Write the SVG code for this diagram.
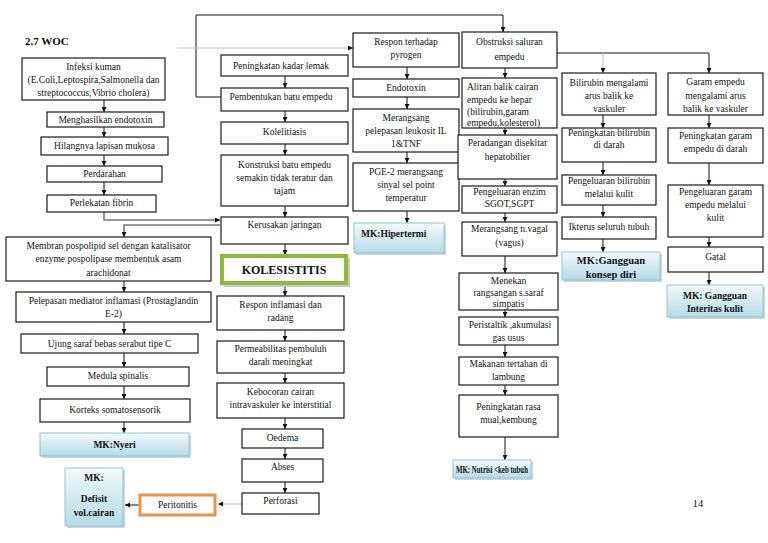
<svg xmlns="http://www.w3.org/2000/svg" width="768" height="543" viewBox="0 0 768 543">
<defs>
<style>
.box{fill:#fff;stroke:#1a1a1a;stroke-width:1.2}
.mk{fill:url(#blue);stroke:#93c3d2;stroke-width:1}
.sh{fill:#c9d6db}
.t{font-family:"Liberation Serif","Times New Roman",serif;font-size:9.5px;fill:#111;text-anchor:middle}
.l{text-anchor:start}
.b{font-weight:bold}
.c{fill:none;stroke:#111;stroke-width:1}
.g{fill:none;stroke:#c4c4c4;stroke-width:1.2}
.g2{fill:none;stroke:#777;stroke-width:1.6}
</style>
<linearGradient id="blue" x1="0" y1="0" x2="0" y2="1">
<stop offset="0" stop-color="#f3fafc"/>
<stop offset="1" stop-color="#b4dbe7"/>
</linearGradient>
<marker id="ah" viewBox="0 0 10 10" refX="10" refY="5" markerWidth="5" markerHeight="5" markerUnits="userSpaceOnUse" orient="auto">
<path d="M0,0 L10,5 L0,10 z" fill="#111"/>
</marker>
</defs>
<rect width="768" height="543" fill="#fff"/>
<text class="t l b" x="25" y="45" style="font-size:11px">2.7 WOC</text>

<g id="connectors">
<path class="c" marker-end="url(#ah)" d="M104,100 V112"/>
<path class="c" marker-end="url(#ah)" d="M104,127 V137"/>
<path class="c" marker-end="url(#ah)" d="M104,155 V166"/>
<path class="c" marker-end="url(#ah)" d="M104,182 V195"/>
<path class="g2" marker-end="url(#ah)" d="M104,212 V220 H220"/>
<path class="g2" marker-end="url(#ah)" d="M220,225 H124 V237"/>
<path class="c" marker-end="url(#ah)" d="M124,281 V292"/>
<path class="c" marker-end="url(#ah)" d="M124,322 V334"/>
<path class="c" marker-end="url(#ah)" d="M124,353 V367"/>
<path class="c" marker-end="url(#ah)" d="M124,386 V399"/>
<path class="c" marker-end="url(#ah)" d="M124,422 V433"/>
<path class="c" marker-end="url(#ah)" d="M285,76 V88"/>
<path class="c" marker-end="url(#ah)" d="M285,111 V122"/>
<path class="c" marker-end="url(#ah)" d="M285,144 V155"/>
<path class="c" marker-end="url(#ah)" d="M285,206 V217"/>
<path class="c" marker-end="url(#ah)" d="M285,244 V255"/>
<path class="c" marker-end="url(#ah)" d="M285,284 V296"/>
<path class="c" marker-end="url(#ah)" d="M285,330 V341"/>
<path class="c" marker-end="url(#ah)" d="M285,373 V383"/>
<path class="c" marker-end="url(#ah)" d="M285,418 V429"/>
<path class="c" marker-end="url(#ah)" d="M285,448 V459"/>
<path class="c" marker-end="url(#ah)" d="M285,482 V493"/>
<path class="g" marker-end="url(#ah)" d="M242,504 H218"/>
<path class="c" marker-end="url(#ah)" d="M139,505 H125"/>
<path class="c" marker-end="url(#ah)" d="M221,97 H196 V15 H503 V32"/>
<path class="g" marker-end="url(#ah)" d="M177,48 H353"/>
<path class="c" marker-end="url(#ah)" d="M407,67 V79"/>
<path class="c" marker-end="url(#ah)" d="M407,97 V109"/>
<path class="c" marker-end="url(#ah)" d="M407,152 V163"/>
<path class="c" marker-end="url(#ah)" d="M407,211 V223"/>
<path class="c" marker-end="url(#ah)" d="M505,68 V78"/>
<path class="c" marker-end="url(#ah)" d="M505,128 V135"/>
<path class="c" marker-end="url(#ah)" d="M505,179 V186"/>
<path class="c" marker-end="url(#ah)" d="M505,213 V222"/>
<path class="c" marker-end="url(#ah)" d="M505,256 V273"/>
<path class="c" marker-end="url(#ah)" d="M505,310 V317"/>
<path class="c" marker-end="url(#ah)" d="M505,345 V357"/>
<path class="c" marker-end="url(#ah)" d="M505,385 V395"/>
<path class="c" marker-end="url(#ah)" d="M505,437 V460"/>
<path d="M460,321 L465,321 L462.5,326 z" fill="#111"/>
<path class="c" marker-end="url(#ah)" d="M557,53 H709 V73"/>
<path class="g" marker-end="url(#ah)" d="M603,53 V73"/>
<path class="c" marker-end="url(#ah)" d="M603,115 V128"/>
<path class="c" marker-end="url(#ah)" d="M603,162 V175"/>
<path class="c" marker-end="url(#ah)" d="M603,205 V217"/>
<path class="c" marker-end="url(#ah)" d="M603,239 V252"/>
<path class="c" marker-end="url(#ah)" d="M709,115 V128"/>
<path class="c" marker-end="url(#ah)" d="M709,163 V185"/>
<path class="c" marker-end="url(#ah)" d="M709,237 V247"/>
<path class="c" marker-end="url(#ah)" d="M709,272 V285"/>
</g>

<g id="n-infeksi"><rect class="box" x="22" y="58" width="143" height="42"/>
<text class="t" x="93.5" y="70">Infeksi kuman</text>
<text class="t" x="93.5" y="83">(E.Coli,Leptospira,Salmonella dan</text>
<text class="t" x="93.5" y="96">streptococcus,Vibrio cholera)</text></g>
<g id="n-endotoxin1"><rect class="box" x="47" y="112" width="117" height="15"/>
<text class="t" x="105.5" y="123">Menghasilkan endotoxin</text></g>
<g id="n-mukosa"><rect class="box" x="41" y="137" width="127" height="18"/>
<text class="t" x="104.5" y="149">Hilangnya lapisan mukosa</text></g>
<g id="n-perdarahan"><rect class="box" x="47" y="166" width="115" height="16"/>
<text class="t" x="104.5" y="177">Perdarahan</text></g>
<g id="n-fibrin"><rect class="box" x="47" y="195" width="109" height="17"/>
<text class="t" x="101.5" y="206">Perlekatan fibrin</text></g>
<g id="n-membran"><rect class="box" x="6" y="237" width="205" height="44"/>
<text class="t" x="108.5" y="249">Membran pospolipid sel dengan katalisator</text>
<text class="t" x="108.5" y="262">enzyme pospolipase membentuk asam</text>
<text class="t" x="108.5" y="276">arachidonat</text></g>
<g id="n-mediator"><rect class="box" x="16" y="292" width="195" height="30"/>
<text class="t" x="113.5" y="304">Pelepasan mediator inflamasi  (Prostaglandin</text>
<text class="t" x="113.5" y="317">E-2)</text></g>
<g id="n-ujung"><rect class="box" x="21" y="334" width="177" height="19"/>
<text class="t" x="109.5" y="347">Ujung saraf bebas serabut tipe  C</text></g>
<g id="n-medula"><rect class="box" x="47" y="367" width="142" height="19"/>
<text class="t" x="118" y="379">Medula spinalis</text></g>
<g id="n-korteks"><rect class="box" x="40" y="399" width="150" height="23"/>
<text class="t" x="115" y="413">Korteks somatosensorik</text></g>
<g id="n-nyeri"><rect class="sh" x="42" y="435" width="149" height="23"/><rect class="mk" x="40" y="433" width="149" height="23"/>
<text class="t b" x="114.5" y="448">MK:Nyeri</text></g>
<g id="n-defisit"><rect class="sh" x="67" y="470" width="58" height="58"/><rect class="mk" x="65" y="468" width="58" height="58"/>
<text class="t b" x="94" y="481">MK:</text>
<text class="t b" x="94" y="502">Defisit</text>
<text class="t b" x="94" y="516">vol.cairan</text></g>
<g id="n-peritonitis"><rect x="140" y="495" width="75" height="20" fill="#fff" stroke="#e8944a" stroke-width="3"/>
<text class="t" x="177.5" y="508">Peritonitis</text></g>

<g id="n-lemak"><rect class="box" x="221" y="55" width="127" height="21"/>
<text class="t" x="281" y="69">Peningkatan kadar lemak</text></g>
<g id="n-batu"><rect class="box" x="221" y="88" width="127" height="23"/>
<text class="t" x="281" y="100">Pembentukan batu empedu</text></g>
<g id="n-kolelitiasis"><rect class="box" x="221" y="122" width="127" height="22"/>
<text class="t" x="284.5" y="135">Kolelitiasis</text></g>
<g id="n-konstruksi"><rect class="box" x="221" y="155" width="127" height="51"/>
<text class="t" x="284.5" y="168">Konstruksi batu empedu</text>
<text class="t" x="284.5" y="181">semakin tidak teratur dan</text>
<text class="t" x="284.5" y="194">tajam</text></g>
<g id="n-kerusakan"><rect class="box" x="221" y="217" width="127" height="27"/>
<text class="t" x="284.5" y="228">Kerusakan jaringan</text></g>
<g id="n-kolesistitis"><rect x="224" y="258" width="126" height="29" fill="#c8c8c8"/><rect x="222" y="256" width="124" height="27" fill="#fff" stroke="#8fb83f" stroke-width="4"/>
<text class="t b" x="284" y="274" style="font-size:12px">KOLESISTITIS</text></g>
<g id="n-respon"><rect class="box" x="217" y="296" width="127" height="34"/>
<text class="t" x="280.5" y="308">Respon inflamasi dan</text>
<text class="t" x="280.5" y="321">radang</text></g>
<g id="n-permeabilitas"><rect class="box" x="217" y="341" width="127" height="32"/>
<text class="t" x="280.5" y="352">Permeabilitas pembuluh</text>
<text class="t" x="280.5" y="365">darah meningkat</text></g>
<g id="n-kebocoran"><rect class="box" x="217" y="383" width="127" height="35"/>
<text class="t" x="280.5" y="395">Kebocoran cairan</text>
<text class="t" x="280.5" y="408">intravaskuler ke interstitial</text></g>
<g id="n-oedema"><rect class="box" x="242" y="429" width="81" height="19"/>
<text class="t" x="282.5" y="441">Oedema</text></g>
<g id="n-abses"><rect class="box" x="242" y="459" width="81" height="23"/>
<text class="t" x="282.5" y="470">Abses</text></g>
<g id="n-perforasi"><rect class="box" x="242" y="493" width="77" height="21"/>
<text class="t" x="280.5" y="504">Perforasi</text></g>

<g id="n-pyrogen"><rect class="box" x="353" y="33" width="106" height="34"/>
<text class="t" x="406" y="45">Respon terhadap</text>
<text class="t" x="406" y="58">pyrogen</text></g>
<g id="n-endotoxin2"><rect class="box" x="353" y="79" width="106" height="18"/>
<text class="t" x="406" y="91">Endotoxin</text></g>
<g id="n-leukosit"><rect class="box" x="353" y="109" width="106" height="43"/>
<text class="t" x="406" y="121">Merangsang</text>
<text class="t" x="406" y="134">pelepasan leukosit  IL</text>
<text class="t" x="406" y="147">1&amp;TNF</text></g>
<g id="n-pge"><rect class="box" x="353" y="163" width="106" height="48"/>
<text class="t" x="406" y="175">PGE-2 merangsang</text>
<text class="t" x="406" y="188">sinyal sel point</text>
<text class="t" x="406" y="201">temperatur</text></g>
<g id="n-hipertermi"><rect class="sh" x="356" y="225" width="90" height="30"/><rect class="mk" x="354" y="223" width="90" height="30"/>
<text class="t l b" x="361" y="237">MK:Hipertermi</text></g>

<g id="n-obstruksi"><rect class="box" x="462" y="32" width="95" height="36"/>
<text class="t" x="509.5" y="45">Obstruksi saluran</text>
<text class="t" x="509.5" y="60">empedu</text></g>
<g id="n-aliran"><rect class="box" x="462" y="78" width="95" height="50"/>
<text class="t l" x="467" y="90">Aliran balik cairan</text>
<text class="t l" x="467" y="103">empedu ke hepar</text>
<text class="t l" x="467" y="115">(bilirubin,garam</text>
<text class="t l" x="467" y="126">empedu,kolesterol)</text></g>
<g id="n-peradangan"><rect class="box" x="458" y="135" width="99" height="44"/>
<text class="t" x="507.5" y="146">Peradangan disekitar</text>
<text class="t" x="507.5" y="160">hepatobilier</text></g>
<g id="n-enzim"><rect class="box" x="462" y="186" width="95" height="27"/>
<text class="t" x="509.5" y="195">Pengeluaran enzim</text>
<text class="t" x="509.5" y="207">SGOT,SGPT</text></g>
<g id="n-vagal"><rect class="box" x="462" y="222" width="95" height="34"/>
<text class="t" x="509.5" y="232">Merangsang n.vagal</text>
<text class="t" x="509.5" y="246">(vagus)</text></g>
<g id="n-menekan"><rect class="box" x="459" y="273" width="99" height="37"/>
<text class="t" x="508.5" y="284">Menekan</text>
<text class="t" x="508.5" y="296">rangsangan s.saraf</text>
<text class="t" x="508.5" y="307">simpatis</text></g>
<g id="n-peristaltik"><rect class="box" x="459" y="317" width="99" height="28"/>
<text class="t" x="510" y="328">Peristaltik ,akumulasi</text>
<text class="t" x="508.5" y="341">gas usus</text></g>
<g id="n-makanan"><rect class="box" x="459" y="357" width="99" height="28"/>
<text class="t" x="508.5" y="367">Makanan tertahan di</text>
<text class="t" x="508.5" y="380">lambung</text></g>
<g id="n-mual"><rect class="box" x="459" y="395" width="99" height="42"/>
<text class="t" x="508.5" y="410">Peningkatan rasa</text>
<text class="t" x="508.5" y="423">mual,kembung</text></g>
<g id="n-nutrisi"><rect class="sh" x="455" y="462" width="78" height="18"/><rect class="mk" x="453" y="460" width="78" height="18"/>
<text class="t b" x="492" y="473" style="font-size:10px" textLength="72" lengthAdjust="spacingAndGlyphs">MK: Nutrisi &lt;keb tubuh</text></g>

<g id="n-bilirubin"><rect class="box" x="562" y="73" width="94" height="42"/>
<text class="t" x="609" y="86">Bilirubin mengalami</text>
<text class="t" x="609" y="99">arus balik ke</text>
<text class="t" x="609" y="112">vaskuler</text></g>
<g id="n-bil-darah"><rect class="box" x="562" y="128" width="94" height="34"/>
<text class="t" x="609" y="136">Peningkatan bilirubin</text>
<text class="t" x="609" y="148">di darah</text></g>
<g id="n-bil-kulit"><rect class="box" x="562" y="175" width="94" height="30"/>
<text class="t" x="609" y="184">Pengeluaran bilirubin</text>
<text class="t" x="609" y="197">melalui kulit</text></g>
<g id="n-ikterus"><rect class="box" x="562" y="217" width="94" height="22"/>
<text class="t" x="609" y="230">Ikterus seluruh tubuh</text></g>
<g id="n-konsep"><rect class="sh" x="564" y="254" width="98" height="28"/><rect class="mk" x="562" y="252" width="98" height="28"/>
<text class="t b" x="611" y="264" style="font-size:10.5px">MK:Gangguan</text>
<text class="t b" x="611" y="278" style="font-size:10.5px">konsep diri</text></g>

<g id="n-garam"><rect class="box" x="668" y="73" width="95" height="42"/>
<text class="t" x="715.5" y="85">Garam empedu</text>
<text class="t" x="715.5" y="99">mengalami arus</text>
<text class="t" x="715.5" y="112">balik ke vaskuler</text></g>
<g id="n-garam-darah"><rect class="box" x="668" y="128" width="95" height="35"/>
<text class="t" x="715.5" y="139">Peningkatan  garam</text>
<text class="t" x="715.5" y="152">empedu  di darah</text></g>
<g id="n-garam-kulit"><rect class="box" x="668" y="185" width="95" height="52"/>
<text class="t" x="715.5" y="195">Pengeluaran  garam</text>
<text class="t" x="715.5" y="208">empedu melalui</text>
<text class="t" x="715.5" y="221">kulit</text></g>
<g id="n-gatal"><rect class="box" x="668" y="247" width="95" height="25"/>
<text class="t" x="715.5" y="260">Gatal</text></g>
<g id="n-interitas"><rect class="sh" x="669" y="287" width="96" height="32"/><rect class="mk" x="667" y="285" width="96" height="32"/>
<text class="t b" x="715" y="299">MK: Gangguan</text>
<text class="t b" x="715" y="312">Interitas kulit</text></g>

<text class="t" x="698" y="507" style="font-size:10.5px">14</text>
</svg>
